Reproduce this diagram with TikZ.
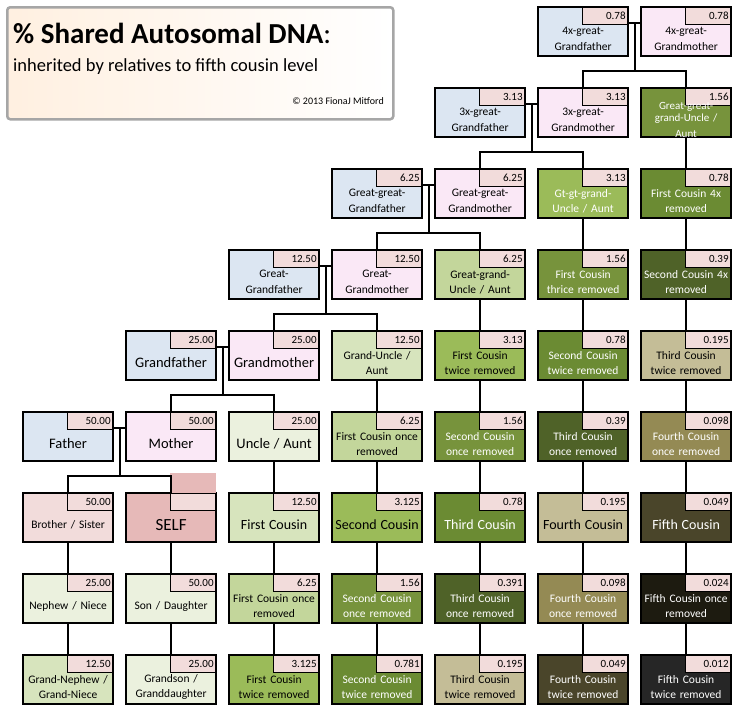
\documentclass[tikz,border=0pt]{standalone}
\usepackage{fontspec}
\setmainfont{Carlito}
\usetikzlibrary{calc,positioning}

\definecolor{dad}{HTML}{DCE6F2}
\definecolor{mum}{HTML}{FAE8F6}
\definecolor{tag}{HTML}{F2DCDB}
\definecolor{me}{HTML}{E6B9B8}
\definecolor{pA}{HTML}{EBF1DE}
\definecolor{pB}{HTML}{D7E4BD}
\definecolor{pC}{HTML}{C3D69B}
\definecolor{pD}{HTML}{9BBB59}
\definecolor{pE}{HTML}{77933C}
\definecolor{pF}{HTML}{6B8B33}
\definecolor{pG}{HTML}{4F6228}
\definecolor{pH}{HTML}{C4BD97}
\definecolor{pI}{HTML}{948A54}
\definecolor{pJ}{HTML}{4A452A}
\definecolor{pK}{HTML}{1D1B10}
\definecolor{pL}{HTML}{262626}

\tikzset{
  rel box/.style={draw,line width=2.2pt,anchor=north west,minimum width=90pt,
                  minimum height=49pt,inner sep=0pt},
  rel tag/.style={draw,line width=1.6pt,fill=tag,anchor=north east,minimum width=45pt,
                  minimum height=17pt,inner sep=2pt,align=right,text width=41pt,
                  font=\fontsize{11}{11}\selectfont},
  rel text/.style={align=center,text width=90pt,inner sep=0pt,
                   font=\fontsize{11.5}{15.5}\selectfont},
  big/.style={font=\fontsize{14.5}{16}\selectfont},
  tree/.style={line width=2pt,line cap=rect}
}

% \rel{row}{col}{fill}{text colour}{value}{name}
\newcommand{\rel}[6]{%
  \pgfmathsetmacro\px{22+103*#2}\pgfmathsetmacro\py{6+81*#1}%
  \node[rel box,fill=#3] (b#1-#2) at (\px,\py) {};
  \node[rel tag] (t#1-#2) at ([xshift=-0.8pt,yshift=-0.8pt]b#1-#2.north east) {#5};
  \node[rel text,text=#4] (n#1-#2) at ($(b#1-#2.north)+(0,33)$) {#6};
}
% \couple{row}{left col}{left child col}{right child col}
\newcommand{\couple}[4]{%
  \pgfmathtruncatemacro\rc{#2+1}\pgfmathtruncatemacro\rr{#1+1}%
  \coordinate (j#1-#2) at ($(b#1-#2.north east)!0.5!(b#1-\rc.north west)+(0,17)$);
  \coordinate (k#1-#2) at ($(b\rr-#3.north)+(0,-16)$);
  \draw[tree] (b#1-#2.east |- j#1-#2) -- (b#1-\rc.west |- j#1-#2);
  \draw[tree] (j#1-#2) -- (j#1-#2 |- k#1-#2);
  \draw[tree] (b\rr-#3.north) -- (k#1-#2) -- (k#1-#2 -| b\rr-#4.north) -- (b\rr-#4.north);
}

\begin{document}
\begin{tikzpicture}[x=1pt,y=-1pt]
  \useasboundingbox (0,0) rectangle (735,707);

  % title
  \node[draw=black!35,line width=2.5pt,rounded corners=3pt,anchor=north west,
        minimum width=386pt,minimum height=112pt,
        left color=orange!12!white,right color=white] (title) at (6,6) {};
  \node[anchor=west,inner sep=0pt,font=\fontsize{29}{29}\selectfont\bfseries] (head)
        at (13,33) {\% Shared Autosomal DNA\mdseries:};
  \node[anchor=west,inner sep=0pt,font=\fontsize{18.5}{19}\selectfont] (sub)
        at (13,67) {inherited by relatives to fifth cousin level};
  \node[anchor=east,inner sep=0pt,font=\fontsize{10}{10}\selectfont] (copy)
        at (384,101) {© 2013 FionaJ Mitford};

  % boxes
  \rel{0}{5}{dad}{black}{0.78}{4x-great-\\Grandfather}
  \rel{0}{6}{mum}{black}{0.78}{4x-great-\\Grandmother}

  \rel{1}{4}{dad}{black}{3.13}{3x-great-\\Grandfather}
  \rel{1}{5}{mum}{black}{3.13}{3x-great-\\Grandmother}
  \rel{1}{6}{pE}{white}{1.56}{\fontsize{11}{12}\selectfont Great-great-\\grand-Uncle /\\Aunt}

  \rel{2}{3}{dad}{black}{6.25}{Great-great-\\Grandfather}
  \rel{2}{4}{mum}{black}{6.25}{Great-great-\\Grandmother}
  \rel{2}{5}{pD}{white}{3.13}{Gt-gt-grand-\\Uncle / Aunt}
  \rel{2}{6}{pF}{white}{0.78}{First Cousin 4x\\removed}

  \rel{3}{2}{dad}{black}{12.50}{Great-\\Grandfather}
  \rel{3}{3}{mum}{black}{12.50}{Great-\\Grandmother}
  \rel{3}{4}{pC}{black}{6.25}{Great-grand-\\Uncle / Aunt}
  \rel{3}{5}{pE}{white}{1.56}{First Cousin\\thrice removed}
  \rel{3}{6}{pG}{white}{0.39}{Second Cousin 4x\\removed}

  \rel{4}{1}{dad}{black}{25.00}{\fontsize{14.5}{16}\selectfont Grandfather}
  \rel{4}{2}{mum}{black}{25.00}{\fontsize{14.5}{16}\selectfont Grandmother}
  \rel{4}{3}{pB}{black}{12.50}{Grand-Uncle /\\Aunt}
  \rel{4}{4}{pD}{black}{3.13}{First Cousin\\twice removed}
  \rel{4}{5}{pF}{white}{0.78}{Second Cousin\\twice removed}
  \rel{4}{6}{pH}{black}{0.195}{Third Cousin\\twice removed}

  \rel{5}{0}{dad}{black}{50.00}{\fontsize{14.5}{16}\selectfont Father}
  \rel{5}{1}{mum}{black}{50.00}{\fontsize{14.5}{16}\selectfont Mother}
  \rel{5}{2}{pA}{black}{25.00}{\fontsize{14.5}{16}\selectfont Uncle / Aunt}
  \rel{5}{3}{pC}{black}{6.25}{First Cousin once\\removed}
  \rel{5}{4}{pE}{white}{1.56}{Second Cousin\\once removed}
  \rel{5}{5}{pG}{white}{0.39}{Third Cousin\\once removed}
  \rel{5}{6}{pI}{white}{0.098}{Fourth Cousin\\once removed}

  \rel{6}{0}{tag}{black}{50.00}{Brother / Sister}
  \rel{6}{1}{me}{black}{\phantom{0}}{\fontsize{17}{18}\selectfont SELF}
  \rel{6}{2}{pB}{black}{12.50}{\fontsize{14}{16}\selectfont First Cousin}
  \rel{6}{3}{pD}{black}{3.125}{\fontsize{14}{16}\selectfont Second Cousin}
  \rel{6}{4}{pF}{white}{0.78}{\fontsize{14}{16}\selectfont Third Cousin}
  \rel{6}{5}{pH}{black}{0.195}{\fontsize{14}{16}\selectfont Fourth Cousin}
  \rel{6}{6}{pJ}{white}{0.049}{\fontsize{14}{16}\selectfont Fifth Cousin}

  \rel{7}{0}{pA}{black}{25.00}{Nephew / Niece}
  \rel{7}{1}{pA}{black}{50.00}{Son / Daughter}
  \rel{7}{2}{pC}{black}{6.25}{First Cousin once\\removed}
  \rel{7}{3}{pE}{white}{1.56}{Second Cousin\\once removed}
  \rel{7}{4}{pG}{white}{0.391}{Third Cousin\\once removed}
  \rel{7}{5}{pI}{white}{0.098}{Fourth Cousin\\once removed}
  \rel{7}{6}{pK}{white}{0.024}{Fifth Cousin once\\removed}

  \rel{8}{0}{pB}{black}{12.50}{Grand-Nephew /\\Grand-Niece}
  \rel{8}{1}{pA}{black}{25.00}{Grandson /\\Granddaughter}
  \rel{8}{2}{pD}{black}{3.125}{First Cousin\\twice removed}
  \rel{8}{3}{pF}{white}{0.781}{Second Cousin\\twice removed}
  \rel{8}{4}{pH}{black}{0.195}{Third Cousin\\twice removed}
  \rel{8}{5}{pJ}{white}{0.049}{Fourth Cousin\\twice removed}
  \rel{8}{6}{pL}{white}{0.012}{Fifth Cousin\\twice removed}

  % SELF has no tag
  \fill[me] ([xshift=-1.2pt,yshift=-1.2pt]b6-1.north east) rectangle ([xshift=-47pt,yshift=19pt]b6-1.north east);

  % couples
  \couple{0}{5}{5}{6}
  \couple{1}{4}{4}{5}
  \couple{2}{3}{3}{4}
  \couple{3}{2}{2}{3}
  \couple{4}{1}{1}{2}
  \couple{5}{0}{0}{1}

  % lines of descent
  \foreach \c/\s in {6/1,5/2,4/3,3/4,2/5,1/6,0/6}
    \foreach \r in {\s,...,7} {
      \pgfmathtruncatemacro\nr{\r+1}
      \draw[tree] (b\r-\c.south) -- (b\nr-\c.north);
    }
\end{tikzpicture}
\end{document}
